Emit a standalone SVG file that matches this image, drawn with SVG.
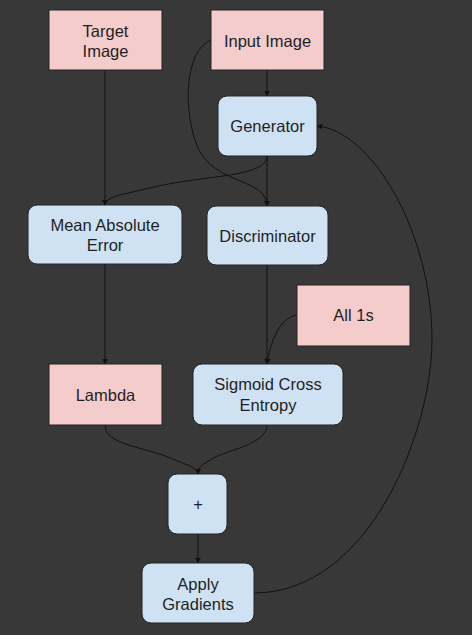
<svg xmlns="http://www.w3.org/2000/svg" width="472" height="635" viewBox="0 0 472 635">
<defs>
<style>
.pink{fill:#f4cccc;stroke:#222;stroke-width:1}
.blue{fill:#cfe2f3;stroke:#222;stroke-width:1}
text{font-family:"Liberation Sans",Arial,sans-serif;font-size:16.5px;fill:#1f1f1f;text-anchor:middle}
.c{fill:none;stroke:#111;stroke-width:1}
</style>
<marker id="ah" viewBox="0 0 10 10" refX="9" refY="5" markerWidth="6" markerHeight="6" orient="auto" markerUnits="userSpaceOnUse">
<path d="M0,0 L10,5 L0,10 Z" fill="#111"/>
</marker>
</defs>
<rect width="472" height="635" fill="#383838"/>
<g id="connectors">
<path class="c" d="M105,70 L105,205" marker-end="url(#ah)"/>
<path class="c" d="M267,70 L267,96" marker-end="url(#ah)"/>
<path class="c" d="M211,40 C185,50 182,110 198,148 C215,185 267,178 267,206" marker-end="url(#ah)"/>
<path class="c" d="M267,156 C267,178 200,175 150,188 C115,196 105,198 105,205" marker-end="url(#ah)"/>
<path class="c" d="M267,156 L267,206" marker-end="url(#ah)"/>
<path class="c" d="M105,264 L105,364" marker-end="url(#ah)"/>
<path class="c" d="M267,265 L267,364" marker-end="url(#ah)"/>
<path class="c" d="M297,315 C278,318 270,345 267,364" marker-end="url(#ah)"/>
<path class="c" d="M105,425 C105,445 145,447 170,458 C190,466 198,468 198,474" marker-end="url(#ah)"/>
<path class="c" d="M267,425 C267,445 225,450 210,460 C200,466 198,468 198,474" marker-end="url(#ah)"/>
<path class="c" d="M198,534 L198,563" marker-end="url(#ah)"/>
<path class="c" d="M254,593 C370,593 432,430 432,340 C432,230 370,130 317,126" marker-end="url(#ah)"/>
</g>
<g id="target-image"><rect class="pink" x="49" y="10" width="113" height="60"/><text x="105.5" y="37">Target</text><text x="105.5" y="57">Image</text></g>
<g id="input-image"><rect class="pink" x="211" y="10" width="113" height="60"/><text x="267.5" y="47">Input Image</text></g>
<g id="generator"><rect class="blue" x="218" y="96" width="99" height="60" rx="9"/><text x="267.5" y="132">Generator</text></g>
<g id="mean-absolute-error"><rect class="blue" x="28" y="205" width="154" height="59" rx="9"/><text x="105" y="231">Mean Absolute</text><text x="105" y="251">Error</text></g>
<g id="discriminator"><rect class="blue" x="207" y="206" width="121" height="59" rx="9"/><text x="267.5" y="242">Discriminator</text></g>
<g id="all-1s"><rect class="pink" x="297" y="285" width="113" height="61"/><text x="353.5" y="321">All 1s</text></g>
<g id="lambda"><rect class="pink" x="49" y="364" width="113" height="61"/><text x="105.5" y="401">Lambda</text></g>
<g id="sigmoid-cross-entropy"><rect class="blue" x="193" y="364" width="150" height="61" rx="9"/><text x="268" y="390">Sigmoid Cross</text><text x="268" y="411">Entropy</text></g>
<g id="plus"><rect class="blue" x="168" y="474" width="59" height="60" rx="9"/><text x="198" y="510">+</text></g>
<g id="apply-gradients"><rect class="blue" x="142" y="563" width="112" height="60" rx="9"/><text x="198" y="590">Apply</text><text x="198" y="610">Gradients</text></g>
</svg>
